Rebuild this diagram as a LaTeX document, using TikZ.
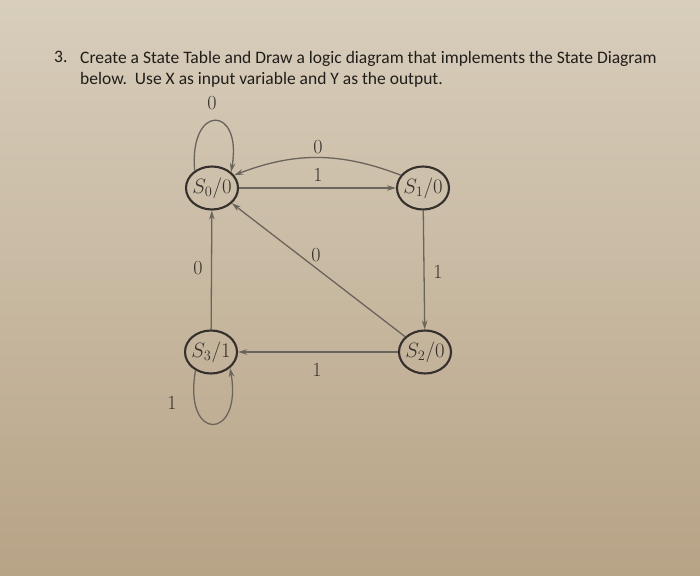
\documentclass[tikz,border=0pt]{standalone}
\usepackage{fontspec}
\newfontfamily\headfont{Carlito}
\usetikzlibrary{arrows.meta,shapes.geometric}
\definecolor{paperTop}{HTML}{D8CEBC}
\definecolor{paperMid}{HTML}{CEC1A9}
\definecolor{paperBot}{HTML}{B7A386}
\definecolor{ink}{HTML}{35302B}
\definecolor{wire}{HTML}{6B645C}

\begin{document}
\begin{tikzpicture}[x=1pt,y=1pt,
    state/.style={draw=ink,line width=2.1pt,ellipse,minimum width=52pt,minimum height=43pt,inner sep=0pt,font=\fontsize{20}{24}\selectfont,text=ink},
    trans/.style={draw=wire,line width=1.3pt,-{Stealth[length=9pt,width=5.5pt]}},
    lbl/.style={font=\fontsize{20}{24}\selectfont,text=ink,inner sep=0pt},
    head/.style={anchor=north west,align=left,inner sep=0pt,text=ink!60!black,font=\headfont\fontsize{17.5}{21}\selectfont}
]
\useasboundingbox (0,0) rectangle (700,575);
\shade[top color=paperTop,middle color=paperMid,bottom color=paperBot] (0,0) rectangle (700,575);

% question text
\node (num) [head] at (54,524) {3.};
\node (task) [head] at (80,524) {Create a State Table and Draw a logic diagram that implements the State Diagram\\below.\ \ Use X as input variable and Y as the output.};

% states
\node (s0) [state] at (212,387) {\makebox[0pt]{$S_0/0$}};
\node (s1) [state] at (423,387) {\makebox[0pt]{$S_1/0$}};
\node (s2) [state] at (425,223) {\makebox[0pt]{$S_2/0$}};
\node (s3) [state] at (211,223) {\makebox[0pt]{$S_3/1$}};

% transitions
\draw[trans] (s0.135) .. controls +(95:68) and +(80:68) .. (s0.40);
\draw[trans] (s1.150) to[bend right=21] (s0.30);
\draw[trans] (s0) -- (s1);
\draw[trans] (s1) -- (s2);
\draw[trans] (s2) -- (s0);
\draw[trans] (s2) -- (s3);
\draw[trans] (s3) -- (s0);
\draw[trans] (s3.230) .. controls +(260:74) and +(-80:74) .. (s3.-40);

% labels
\node (l00) [lbl] at (212,472) {0};
\node (l10) [lbl] at (318,428) {0};
\node (l01) [lbl] at (318,400) {1};
\node (l20) [lbl] at (316,320) {0};
\node (l12) [lbl] at (438,303) {1};
\node (l30) [lbl] at (198,307) {0};
\node (l23) [lbl] at (317,205) {1};
\node (l33) [lbl] at (172,172) {1};
\end{tikzpicture}
\end{document}
